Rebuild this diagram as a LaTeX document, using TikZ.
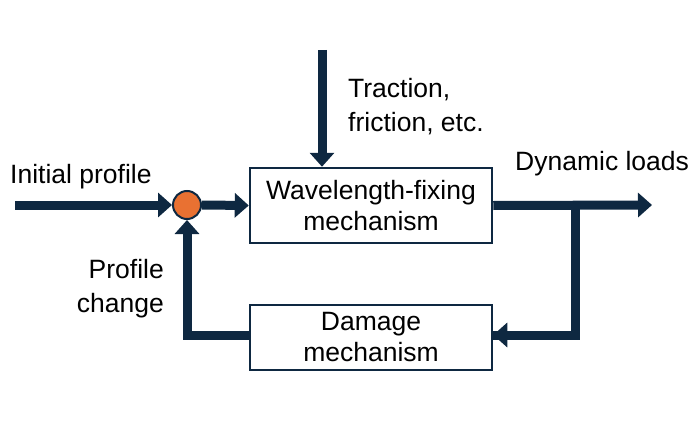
\documentclass[tikz,border=0pt]{standalone}
\usepackage{fontspec}
\setmainfont{Liberation Sans}
\usetikzlibrary{arrows.meta}
\definecolor{navy}{HTML}{0E2841}
\definecolor{orng}{HTML}{E97132}
\begin{document}
\begin{tikzpicture}[x=1pt,y=-1pt,
  box/.style={draw=navy,line width=2.5pt,minimum width=242pt,align=center,font=\fontsize{26.5}{31}\selectfont,inner sep=0pt},
  lbl/.style={font=\fontsize{26.5}{34}\selectfont,align=left,inner sep=0pt},
  flow/.style={draw=navy,line width=9pt},
  arr/.style={flow,-{Triangle[length=14pt,width=24pt]}}]
\useasboundingbox (0,0) rectangle (700,422);
\node[box,minimum height=75pt] (b1) at (371,205.5) {Wavelength-fixing\\mechanism};
\node[box,minimum height=65pt] (b2) at (371,337.5) {Damage\\mechanism};
\node[circle,draw=navy,line width=2pt,fill=orng,minimum size=28pt,inner sep=0pt] (c) at (187,205) {};
\coordinate (in) at (15,205);
\coordinate (top) at (322,50);
\coordinate (out) at (652,205);
\coordinate (br) at (575,205);
\coordinate (dn) at (575,335);
\coordinate (bk) at (187,335);
\draw[arr] (in) -- (c.west);
\draw[arr] (c.east) -- (b1.west);
\draw[arr] (top) -- (b1.north -| top);
\draw[arr] (b1.east) -- (out);
\draw[flow,line join=miter] (br) -- (dn) -- (b2.east |- dn);
\draw[arr] (dn) -- (b2.east |- dn);
\draw[arr,line join=miter] (b2.west |- bk) -- (bk) -- (c.south);
\node[lbl,anchor=west] (t1) at (348,107) {Traction,\\friction, etc.};
\node[lbl,anchor=west] (t2) at (515,164) {Dynamic loads};
\node[lbl,anchor=west] (t3) at (10,177) {Initial profile};
\node[lbl,anchor=east,align=right] (t4) at (164,289) {Profile\\change};
\end{tikzpicture}
\end{document}
